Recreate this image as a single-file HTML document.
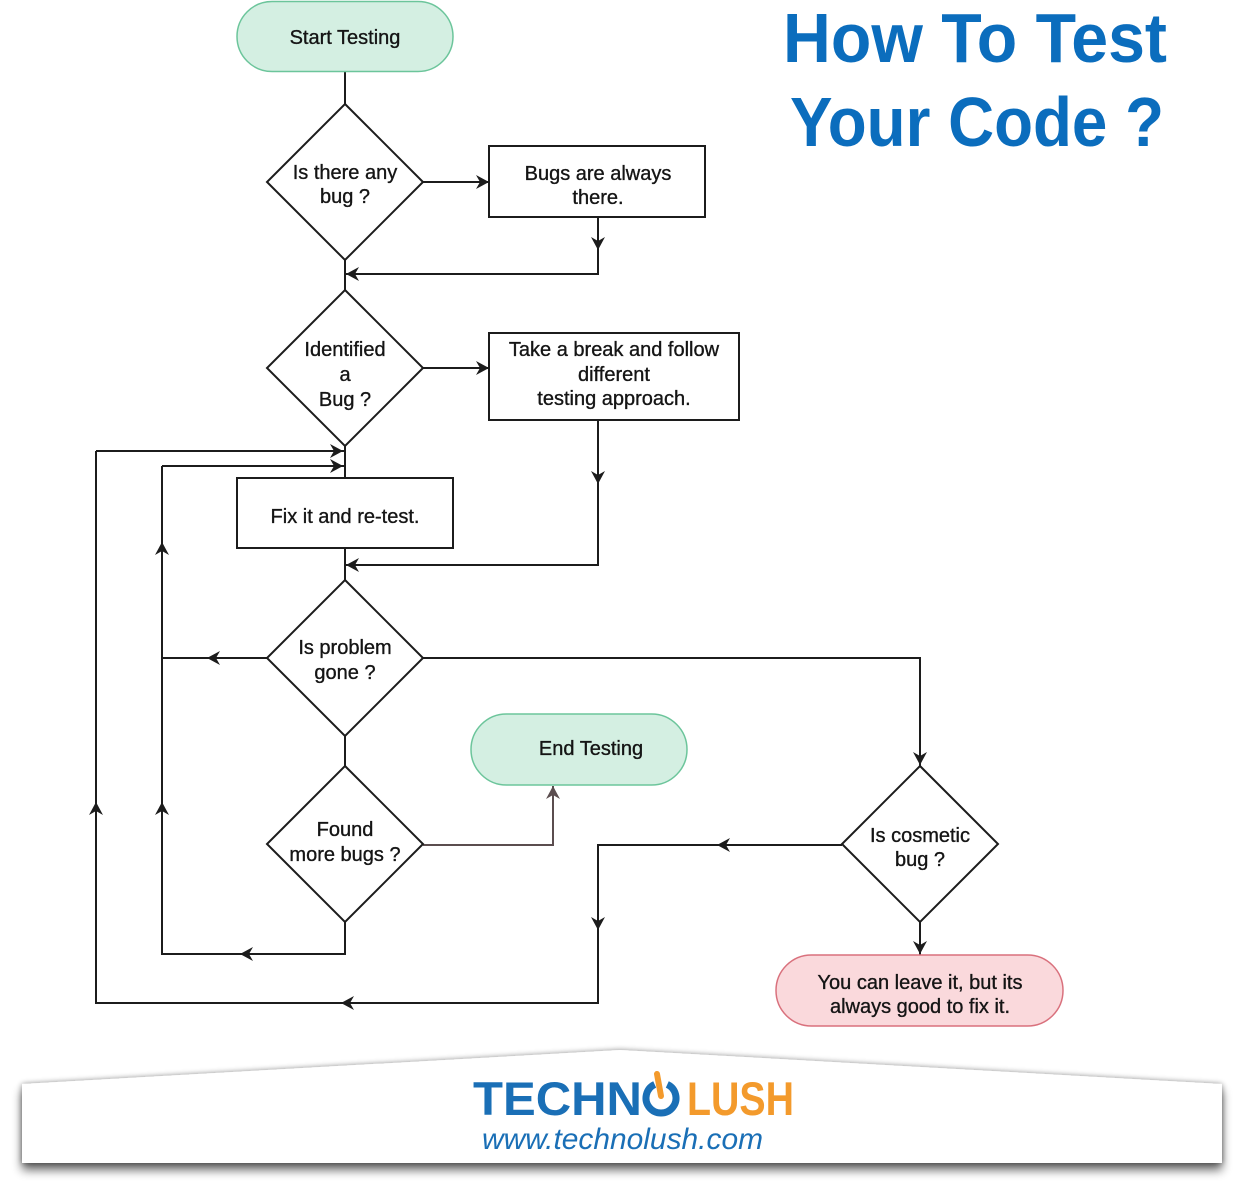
<!DOCTYPE html>
<html>
<head>
<meta charset="utf-8">
<style>
html,body{margin:0;padding:0;background:#ffffff;}
svg{display:block;}
.t{font-family:"Liberation Sans",Arial,sans-serif;font-size:20px;fill:#151515;stroke:#151515;stroke-width:0.35;text-anchor:middle;}
.ln{stroke:#1c1c1c;stroke-width:2;fill:none;}
</style>
</head>
<body>
<svg width="1245" height="1194" viewBox="0 0 1245 1194" xmlns="http://www.w3.org/2000/svg">
<defs>
  <path id="ah" d="M0,0 L-13,-7 L-9,0 L-13,7 Z" fill="#1c1c1c"/>
  <path id="ahg" d="M0,0 L-13,-7 L-9,0 L-13,7 Z" fill="#5b4d4f"/>
  <filter id="sh" x="-5%" y="-40%" width="110%" height="180%">
    <feGaussianBlur in="SourceAlpha" stdDeviation="3" result="b1"/>
    <feComponentTransfer in="b1" result="c1"><feFuncA type="linear" slope="0.4"/></feComponentTransfer>
    <feGaussianBlur in="SourceAlpha" stdDeviation="5" result="b2"/>
    <feOffset in="b2" dx="0" dy="7" result="o2"/>
    <feComponentTransfer in="o2" result="c2"><feFuncA type="linear" slope="0.6"/></feComponentTransfer>
    <feMerge><feMergeNode in="c1"/><feMergeNode in="c2"/><feMergeNode in="SourceGraphic"/></feMerge>
  </filter>
</defs>

<rect x="0" y="0" width="1245" height="1194" fill="#ffffff"/>

<!-- Title -->
<text x="783" y="62" font-family="Liberation Sans, Arial, sans-serif" font-weight="bold" font-size="70" fill="#0b6dbd" textLength="384" lengthAdjust="spacingAndGlyphs">How To Test</text>
<text x="790" y="146" font-family="Liberation Sans, Arial, sans-serif" font-weight="bold" font-size="70" fill="#0b6dbd" textLength="374" lengthAdjust="spacingAndGlyphs">Your Code ?</text>

<!-- Connectors -->
<path class="ln" d="M345,72 V104"/>
<path class="ln" d="M423,182 H489"/>
<path class="ln" d="M598,217 V274 H345"/>
<path class="ln" d="M345,260 V290"/>
<path class="ln" d="M423,368 H489"/>
<path class="ln" d="M598,420 V565 H345"/>
<path class="ln" d="M345,446 V478"/>
<path class="ln" d="M96,451 H345"/>
<path class="ln" d="M162,466 H345"/>
<path class="ln" d="M345,548 V580"/>
<path class="ln" d="M267,658 H162"/>
<path class="ln" d="M423,658 H920 V766"/>
<path class="ln" d="M345,736 V766"/>
<path d="M423,845 H553 V786" stroke="#5b4d4f" stroke-width="2" fill="none"/>
<path class="ln" d="M345,922 V954 H162 V466"/>
<path class="ln" d="M842,845 H598 V1003 H96 V451"/>
<path class="ln" d="M920,922 V955"/>

<!-- Arrowheads -->
<use href="#ah" transform="translate(489,182)"/>
<use href="#ah" transform="translate(598,250) rotate(90)"/>
<use href="#ah" transform="translate(346,274) rotate(180)"/>
<use href="#ah" transform="translate(489,368)"/>
<use href="#ah" transform="translate(598,484) rotate(90)"/>
<use href="#ah" transform="translate(346,565) rotate(180)"/>
<use href="#ah" transform="translate(343,451)"/>
<use href="#ah" transform="translate(343,466)"/>
<use href="#ah" transform="translate(162,542) rotate(-90)"/>
<use href="#ah" transform="translate(207,658) rotate(180)"/>
<use href="#ah" transform="translate(920,765) rotate(90)"/>
<use href="#ahg" transform="translate(553,786) rotate(-90)"/>
<use href="#ah" transform="translate(162,802) rotate(-90)"/>
<use href="#ah" transform="translate(96,802) rotate(-90)"/>
<use href="#ah" transform="translate(240,954) rotate(180)"/>
<use href="#ah" transform="translate(717,845) rotate(180)"/>
<use href="#ah" transform="translate(598,930) rotate(90)"/>
<use href="#ah" transform="translate(341,1003) rotate(180)"/>
<use href="#ah" transform="translate(920,954) rotate(90)"/>

<!-- Start Testing -->
<rect x="237" y="1.5" width="216" height="70" rx="35" ry="35" fill="#d4efe2" stroke="#6cc59b" stroke-width="1.5"/>
<text class="t" x="345" y="44">Start Testing</text>

<!-- Diamond 1 -->
<polygon points="345,104 423,182 345,260 267,182" fill="#ffffff" stroke="#1c1c1c" stroke-width="2"/>
<text class="t" x="345" y="179">Is there any</text>
<text class="t" x="345" y="203">bug ?</text>

<!-- Box 1 -->
<rect x="489" y="146" width="216" height="71" fill="#ffffff" stroke="#1c1c1c" stroke-width="2"/>
<text class="t" x="598" y="180">Bugs are always</text>
<text class="t" x="598" y="204">there.</text>

<!-- Diamond 2 -->
<polygon points="345,290 423,368 345,446 267,368" fill="#ffffff" stroke="#1c1c1c" stroke-width="2"/>
<text class="t" x="345" y="356">Identified</text>
<text class="t" x="345" y="381">a</text>
<text class="t" x="345" y="406">Bug ?</text>

<!-- Box 2 -->
<rect x="489" y="333" width="250" height="87" fill="#ffffff" stroke="#1c1c1c" stroke-width="2"/>
<text class="t" x="614" y="356">Take a break and follow</text>
<text class="t" x="614" y="381">different</text>
<text class="t" x="614" y="405">testing approach.</text>

<!-- Fix box -->
<rect x="237" y="478" width="216" height="70" fill="#ffffff" stroke="#1c1c1c" stroke-width="2"/>
<text class="t" x="345" y="523">Fix it and re-test.</text>

<!-- Diamond 3 -->
<polygon points="345,580 423,658 345,736 267,658" fill="#ffffff" stroke="#1c1c1c" stroke-width="2"/>
<text class="t" x="345" y="654">Is problem</text>
<text class="t" x="345" y="679">gone ?</text>

<!-- End Testing -->
<rect x="471" y="714" width="216" height="71" rx="35.5" ry="35.5" fill="#d4efe2" stroke="#6cc59b" stroke-width="1.5"/>
<text class="t" x="591" y="755">End Testing</text>

<!-- Diamond Found -->
<polygon points="345,766 423,844 345,922 267,844" fill="#ffffff" stroke="#1c1c1c" stroke-width="2"/>
<text class="t" x="345" y="836">Found</text>
<text class="t" x="345" y="861">more bugs ?</text>

<!-- Diamond cosmetic -->
<polygon points="920,766 998,844 920,922 842,844" fill="#ffffff" stroke="#1c1c1c" stroke-width="2"/>
<text class="t" x="920" y="842">Is cosmetic</text>
<text class="t" x="920" y="866">bug ?</text>

<!-- Pink pill -->
<rect x="776" y="955" width="287" height="71" rx="35.5" ry="35.5" fill="#fad9dc" stroke="#d9717d" stroke-width="1.5"/>
<text class="t" x="920" y="989">You can leave it, but its</text>
<text class="t" x="920" y="1013">always good to fix it.</text>

<!-- Footer banner -->
<polygon points="22,1084 620,1050 1222,1084 1222,1163 22,1163" fill="#ffffff" filter="url(#sh)"/>

<!-- Logo -->
<text x="473" y="1115" font-family="Liberation Sans, Arial, sans-serif" font-weight="bold" font-size="47" fill="#1a6fb6" textLength="169" lengthAdjust="spacingAndGlyphs">TECHN</text>
<path d="M667.3,1084.4 A15,15 0 1 1 654.7,1084.4" stroke="#1a6fb6" stroke-width="7" fill="none"/>
<path d="M657,1074 L661,1096" stroke="#f39a2c" stroke-width="6" stroke-linecap="round" fill="none"/>
<text x="687" y="1115" font-family="Liberation Sans, Arial, sans-serif" font-weight="bold" font-size="47" fill="#f39a2c" textLength="107" lengthAdjust="spacingAndGlyphs">LUSH</text>
<text x="482" y="1149" font-family="Liberation Sans, Arial, sans-serif" font-style="italic" font-size="30" fill="#1a6fb6" textLength="281" lengthAdjust="spacingAndGlyphs">www.technolush.com</text>
</svg>
</body>
</html>
